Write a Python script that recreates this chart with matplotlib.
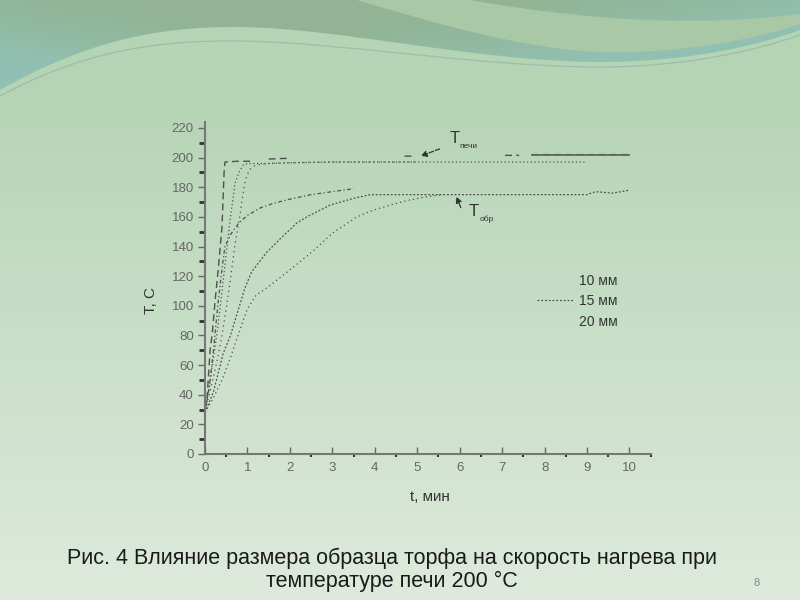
import matplotlib.pyplot as plt
import numpy as np
from matplotlib.lines import Line2D
from matplotlib.path import Path
from matplotlib.patches import PathPatch
from matplotlib.ticker import MultipleLocator

# Данные: t, мин  /  T, C
# температура печи для образцов 10, 15, 20 мм
t_pech10 = [0.0, 0.05, 0.12, 0.17, 0.24, 0.31, 0.40, 0.45, 0.47, 0.75, 1.06, np.nan, 1.5, 1.93,
            np.nan, 4.7, 4.9, np.nan, 7.07, 7.4, np.nan, 7.7, 10.0]
T_pech10 = [30, 38, 70, 81, 104, 124, 153, 190, 197, 197.5, 197.5, np.nan, 199, 199.5,
            np.nan, 201, 201, np.nan, 201.5, 201.5, np.nan, 202, 202]
t_pech15 = [0.0, 0.1, 0.2, 0.3, 0.4, 0.5, 0.6, 0.71, 0.8, 0.9, 1.0, 1.5, 2.0, 3.0, 4.0, 5.0, 6.0, 7.0, 8.0, 9.0]
T_pech15 = [30, 45, 65, 85, 110, 135, 160, 183, 190, 195, 196, 196, 196.5, 197, 197, 197, 197, 197, 197, 197]
t_pech20 = [0.0, 0.1, 0.2, 0.3, 0.4, 0.5, 0.6, 0.7, 0.83, 0.87, 0.95, 1.05, 1.2, 1.5, 2.0, 3.0, 4.0, 5.0]
T_pech20 = [30, 40, 52, 65, 80, 98, 118, 140, 162, 171, 185, 192, 195, 196, 196.5, 197, 197, 197]

# температура образца
t_obr10 = [0.0, 0.1, 0.2, 0.3, 0.4, 0.47, 0.6, 0.8, 1.0, 1.3, 1.6, 2.0, 2.5, 3.0, 3.5]
T_obr10 = [28, 45, 70, 100, 125, 140, 148, 156, 161, 166, 169, 172, 175, 177, 179]
t_obr15 = [0.0, 0.2, 0.43, 0.6, 0.94, 1.1, 1.45, 1.8, 2.17, 2.4, 2.95, 3.5, 3.9, 5.0, 6.0, 7.0,
           8.0, 9.0, 9.2, 9.6, 10.0]
T_obr15 = [28, 42, 68, 80, 112, 123, 136, 146, 156, 160, 168, 172.5, 175, 175, 175, 175,
           175, 175, 177, 176, 178]
t_obr20 = [0.0, 0.2, 0.4, 0.6, 0.8, 1.0, 1.2, 1.5, 2.08, 2.55, 3.0, 3.58, 3.96, 4.37, 4.76, 5.2, 5.6]
T_obr20 = [28, 38, 50, 65, 82, 98, 107, 113, 126, 137, 149, 160, 164.5, 168, 171, 173.5, 175]

legend_labels = ['10 мм', '15 мм', '20 мм']
caption = 'Рис. 4 Влияние размера образца торфа на скорость нагрева при\nтемпературе печи 200 °C'
fam = ['Liberation Sans', 'DejaVu Sans']

fig = plt.figure(figsize=(8, 6), dpi=100)

# фон слайда
bg = fig.add_axes([0, 0, 1, 1])
yy = np.linspace(0, 600, 600)
k = np.clip((yy - 80) / 520, 0, 1)[:, None, None]
top = np.array([180, 212, 179]) / 255
bot = np.array([222, 234, 221]) / 255
grad = np.repeat(top + (bot - top) * k, 2, axis=1)
bg.imshow(grad, extent=(0, 800, 600, 0), aspect='auto')

M, L, C4, CL = Path.MOVETO, Path.LINETO, Path.CURVE4, Path.CLOSEPOLY
band = Path([(0, 0), (0, 90), (80, 45), (150, 26), (240, 27), (340, 28), (480, 62), (600, 62),
             (690, 62), (760, 45), (800, 30), (800, 0), (0, 0)],
            [M, L, C4, C4, C4, C4, C4, C4, C4, C4, C4, L, CL])
band_patch = PathPatch(band, facecolor='none', lw=0)
bg.add_patch(band_patch)
gx, gy = np.meshgrid(np.linspace(0, 800, 200), np.linspace(0, 100, 50))
w = np.clip(gy / 70 + np.abs(gx - 300) / 400 - 0.6, 0, 1)[..., None]
green = np.array([146, 180, 148]) / 255
teal = np.array([145, 192, 178]) / 255
im = bg.imshow(green + (teal - green) * w, extent=(0, 800, 100, 0), aspect='auto')
im.set_clip_path(band_patch)

cres = Path([(357, 0), (430, 22), (520, 48), (595, 52), (680, 55), (760, 38), (800, 24),
             (800, 14), (720, 24), (620, 26), (470, 0), (357, 0)],
            [M, C4, C4, C4, C4, C4, C4, L, C4, C4, C4, CL])
bg.add_patch(PathPatch(cres, facecolor='#a9c8a5', lw=0))
thin = Path([(0, 96), (80, 53), (150, 40), (240, 41), (340, 42), (480, 67), (600, 67),
             (690, 67), (760, 49), (800, 35)],
            [M, C4, C4, C4, C4, C4, C4, C4, C4, C4])
bg.add_patch(PathPatch(thin, facecolor='none', edgecolor='#9dbcae', lw=0.9))
bg.set_xlim(0, 800)
bg.set_ylim(600, 0)
bg.axis('off')

ax = fig.add_axes([205 / 800, 1 - 454 / 600, 445.7 / 800, 332 / 600])
ax.patch.set_alpha(0)

c = '#505050'
ax.plot(t_pech10, T_pech10, color=c, lw=1.0, dashes=(5, 3))
ax.plot(t_pech10[-2:], T_pech10[-2:], color='#666666', lw=1.3)
ax.plot(t_pech15, T_pech15, color=c, lw=0.9, dashes=(1, 2))
ax.plot(t_pech20, T_pech20, color=c, lw=0.9, dashes=(1, 3))
ax.plot(t_obr10, T_obr10, color=c, lw=0.9, dashes=(3, 2, 1, 2))
ax.plot(t_obr15, T_obr15, color=c, lw=0.9, dashes=(1.5, 1.5))
ax.plot(t_obr20, T_obr20, color=c, lw=0.9, dashes=(1, 2.5))

ax.set_xlim(0, 10.5)
ax.set_ylim(0, 224)
for s in ['top', 'right']:
    ax.spines[s].set_visible(False)
for s in ['left', 'bottom']:
    ax.spines[s].set_color('#777777')
    ax.spines[s].set_linewidth(1.5)

ax.xaxis.set_minor_locator(MultipleLocator(0.5))
ax.yaxis.set_minor_locator(MultipleLocator(10))
ax.set_xticks(np.arange(0, 11, 1))
ax.set_yticks(np.arange(0, 221, 20))
ax.tick_params(axis='x', which='major', direction='in', length=5, width=1, color='#666666',
               labelsize=9.5, labelcolor='#666666', pad=6)
ax.tick_params(axis='x', which='minor', direction='out', length=2.5, width=1.5, color='#333333')
ax.tick_params(axis='y', which='major', direction='out', length=5, width=1, color='#666666',
               labelsize=9.5, labelcolor='#666666', pad=3)
ax.tick_params(axis='y', which='minor', direction='out', length=4, width=2, color='#333333')
for lb in ax.get_xticklabels() + ax.get_yticklabels():
    lb.set_family(fam)

fig.text(430 / 800, 1 - 497 / 600, 't, мин', ha='center', va='center', fontsize=11,
         color='#333333', family=fam)
fig.text(151 / 800, 1 - 300 / 600, 'T, C', ha='center', va='center', rotation=90, fontsize=11,
         color='#333333', family=fam)

# подписи Tпечи и Tобр
ax.annotate('', xy=(5.02, 200.4), xytext=(5.59, 206.5),
            arrowprops=dict(arrowstyle='-|>', color='#333333', lw=0.9, ls='--', mutation_scale=9))
ax.text(5.76, 212.6, 'T', fontsize=12, color='#333333', va='center', ha='left', family=fam)
ax.text(6.0, 207.5, 'печи', fontsize=6, color='#333333', va='center', ha='left', family=fam)
ax.annotate('', xy=(5.9, 175.4), xytext=(6.05, 164.5),
            arrowprops=dict(arrowstyle='-|>', color='#333333', lw=0.9, ls='--', mutation_scale=9))
ax.text(6.22, 163.8, 'T', fontsize=12, color='#333333', va='center', ha='left', family=fam)
ax.text(6.46, 158.5, 'обр', fontsize=6, color='#333333', va='center', ha='left', family=fam)

handles = [Line2D([], [], color='none'),
           Line2D([], [], color=c, lw=0.9, dashes=(1.5, 1.5)),
           Line2D([], [], color='none')]
leg = ax.legend(handles, legend_labels, loc='upper left', bbox_to_anchor=(537 / 800, 1 - 274 / 600),
                bbox_transform=fig.transFigure, frameon=False, handlelength=2.6,
                handletextpad=0.4, labelspacing=0.45, borderpad=0, borderaxespad=0,
                prop={'family': fam, 'size': 10})
for tx in leg.get_texts():
    tx.set_color('#333333')

fig.text(392 / 800, 1 - 570 / 600, caption, ha='center', va='center', fontsize=15.5,
         color='#1a1a1a', linespacing=1.15, family=fam)
fig.text(757 / 800, 1 - 583 / 600, '8', ha='center', va='center', fontsize=8, color='#888888',
         family=fam)

fig.savefig('out.png', dpi=100)
